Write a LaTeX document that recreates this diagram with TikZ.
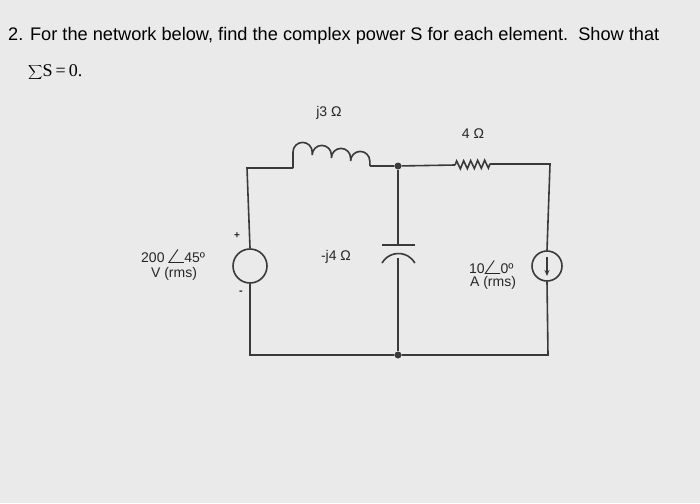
\documentclass[tikz,border=0pt]{standalone}
\usepackage{fontspec}
\setmainfont{Liberation Sans}
\newfontfamily\serifx{Liberation Serif}
\usetikzlibrary{decorations.pathmorphing,arrows.meta}
\definecolor{bg}{HTML}{EAEAEA}
\definecolor{wire}{HTML}{3A3A3A}
\newcommand{\myang}{\tikz[baseline=0pt,x=1pt,y=1pt]\draw[line width=0.9pt] (9,13) -- (0,0) -- (15,0);}
\begin{document}
\begin{tikzpicture}[x=1pt,y=-1pt,
  w/.style={draw=wire,line width=1.6pt},
  lbl/.style={font=\fontsize{14}{15}\selectfont,text=black!85,inner sep=0pt},
  dot/.style={circle,fill=wire,inner sep=0pt,minimum size=7pt}]
\fill[bg] (0,0) rectangle (700,503);
\useasboundingbox (0,0) rectangle (700,503);
\node[anchor=west,inner sep=0pt,font=\fontsize{18.2}{19}\selectfont] (title) at (8,36) {2. For the network below, find the complex power S for each element.\ \ Show that};
\node[anchor=west,inner sep=0pt,font=\serifx\fontsize{18}{19}\selectfont] (sum) at (28,72) {$\displaystyle\sum$S\,=\,0.};
\coordinate (tl) at (247,168);
\coordinate (ls) at (293,168);
\coordinate (le) at (370,166);
\node[dot] (jt) at (398,166) {};
\node[dot] (jb) at (398,355) {};
\coordinate (rs) at (455,165);
\coordinate (re) at (492,164);
\coordinate (tr) at (550,164);
\coordinate (bl) at (250,355);
\coordinate (br) at (548,355);
\node[circle,draw=wire,line width=1.6pt,minimum size=34pt,inner sep=0pt] (vs) at (250,266) {};
\node[circle,draw=wire,line width=1.6pt,minimum size=30pt,inner sep=0pt] (cs) at (547,266) {};
\coordinate (cp1) at (398,245);
\coordinate (cp2) at (398,258);
\draw[w] (vs.north) -- (tl) -- (ls);
\draw[w] (ls) -- ++(0,-16) arc[start angle=180,end angle=360,radius=9.6] -- ++(0,3)
  arc[start angle=180,end angle=360,radius=9.6] -- ++(0,3)
  arc[start angle=180,end angle=360,radius=9.6] -- ++(0,3)
  arc[start angle=180,end angle=360,radius=9.6] -- (le);
\draw[w] (le) -- (jt) -- (rs);
\draw[w,decorate,decoration={zigzag,segment length=7pt,amplitude=4pt}] (rs) -- (re);
\draw[w] (re) -- (tr) -- (cs.north);
\draw[w] (cs.south) -- (br) -- (jb) -- (bl) -- (vs.south);
\draw[w] (jt) -- (cp1);
\draw[w] (382,245) -- (415,245);
\draw[w] (382,263) arc[start angle=-150,end angle=-30,radius=19] ;
\draw[w] (cp2) -- (jb);
\draw[draw=wire,line width=1.3pt,-{Stealth[length=6pt,width=5pt]}] (547,257) -- (547,276);
\node[lbl] (l1) at (329,113) {j3 Ω};
\node[lbl] (l2) at (473,134) {4 Ω};
\node[lbl] (l3) at (336,257) {-j4 Ω};
\node[lbl,font=\bfseries\fontsize{10}{10}\selectfont] (pl) at (237,236) {+};
\node[lbl,font=\bfseries\fontsize{11}{10}\selectfont] (mi) at (241,293) {-};
\node[lbl,anchor=west] (v1) at (141,256) {200 \myang45º};
\node[lbl] (v2) at (174,274) {V (rms)};
\node[lbl,anchor=west] (c1) at (469,267) {10\myang0º};
\node[lbl] (c2) at (493,283) {A (rms)};
\end{tikzpicture}
\end{document}
